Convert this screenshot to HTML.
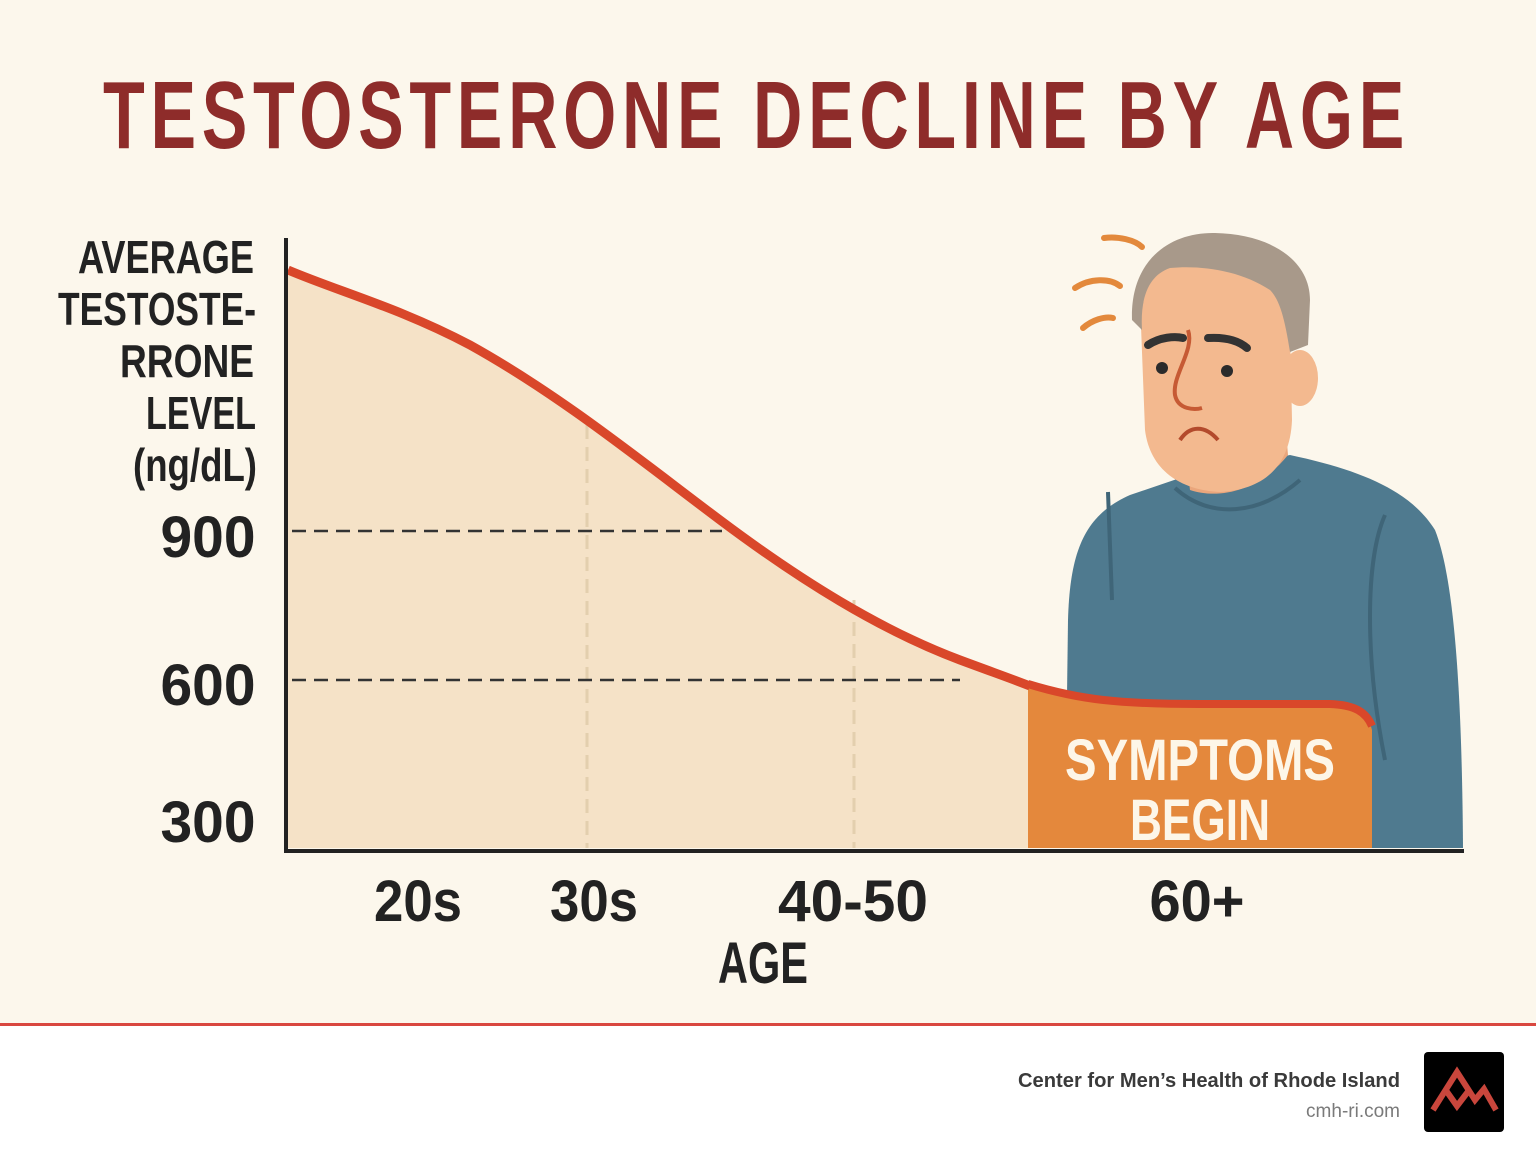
<!DOCTYPE html>
<html><head><meta charset="utf-8"><style>
html,body{margin:0;padding:0;}
body{width:1536px;height:1154px;overflow:hidden;background:#fff;}
svg{display:block;}
text{font-family:"Liberation Sans",sans-serif;font-weight:bold;}
</style></head><body>
<svg width="1536" height="1154" viewBox="0 0 1536 1154" xmlns="http://www.w3.org/2000/svg">
<rect x="0" y="0" width="1536" height="1024" fill="#fcf7ec"/>
<rect x="0" y="1023" width="1536" height="3" fill="#d9473f"/>
<rect x="0" y="1026" width="1536" height="128" fill="#ffffff"/>

<text x="103" y="148" font-size="96" letter-spacing="8" fill="#8e2c2a" textLength="1307" lengthAdjust="spacingAndGlyphs">TESTOSTERONE DECLINE BY AGE</text>

<!-- man body -->
<path d="M1065,848 L1068,620 C1070,550 1085,515 1130,495 L1180,478 L1290,455 C1360,470 1410,490 1435,530 C1455,580 1462,700 1463,848 Z" fill="#4f7a8f"/>
<path d="M1175,488 C1210,520 1260,515 1300,480" stroke="#3f6578" stroke-width="4" fill="none"/>
<path d="M1108,492 L1112,600" stroke="#3f6578" stroke-width="4" fill="none"/>
<path d="M1385,515 C1365,560 1365,660 1385,760" stroke="#3f6578" stroke-width="4" fill="none"/>
<!-- neck -->
<path d="M1185,450 L1190,490 C1220,500 1260,490 1288,455 L1285,420 Z" fill="#eaa67c"/>
<!-- head -->
<path d="M1140,300 C1140,270 1170,255 1215,258 C1265,262 1290,290 1290,330 L1292,420 C1290,470 1260,490 1220,492 C1180,490 1150,470 1145,430 Z" fill="#f3b98f"/>
<ellipse cx="1300" cy="378" rx="18" ry="28" fill="#f3b98f"/>
<path d="M1132,320 C1130,260 1170,232 1215,233 C1270,234 1310,260 1310,300 L1308,345 L1290,352 C1285,320 1280,300 1270,290 C1240,270 1200,265 1170,268 C1150,275 1140,295 1142,330 Z" fill="#a8998a"/>
<path d="M1148,345 C1160,337 1175,336 1183,338" stroke="#333" stroke-width="8" stroke-linecap="round" fill="none"/>
<path d="M1208,338 C1225,337 1238,340 1247,348" stroke="#333" stroke-width="8" stroke-linecap="round" fill="none"/>
<circle cx="1162" cy="368" r="6" fill="#2b2b2b"/>
<circle cx="1227" cy="371" r="6" fill="#2b2b2b"/>
<path d="M1188,330 C1195,350 1172,375 1175,395 C1178,410 1195,410 1202,408" stroke="#c65a34" stroke-width="4" fill="none"/>
<path d="M1180,440 C1190,425 1205,425 1218,440" stroke="#b34a2c" stroke-width="4" fill="none"/>
<!-- motion lines -->
<path d="M1104,238 C1118,236 1135,240 1142,247" stroke="#e3893c" stroke-width="6" stroke-linecap="round" fill="none"/>
<path d="M1075,288 C1090,278 1110,278 1120,286" stroke="#e3893c" stroke-width="6" stroke-linecap="round" fill="none"/>
<path d="M1083,328 C1092,320 1105,316 1113,318" stroke="#e3893c" stroke-width="6" stroke-linecap="round" fill="none"/>

<!-- chart fill -->
<path d="M288,270 C340,292 400,308 470,345 C560,395 640,460 720,520 C800,580 880,630 960,660 C995,673 1015,680 1030,685 L1030,848 L288,848 Z" fill="#f5e2c7"/>
<path d="M1028,684 C1080,700 1120,704 1200,704 L1330,704 C1355,705 1368,712 1372,730 L1372,848 L1028,848 Z" fill="#e4883c"/>
<path d="M1028,684 C1080,700 1120,704 1200,704 L1330,704 C1355,705 1366,712 1372,726" stroke="#d9472a" stroke-width="8" fill="none"/>

<line x1="587" y1="425" x2="587" y2="848" stroke="#e3cfae" stroke-width="3" stroke-dasharray="14,8"/>
<line x1="854" y1="600" x2="854" y2="848" stroke="#e3cfae" stroke-width="3" stroke-dasharray="14,8"/>
<line x1="292" y1="531" x2="722" y2="531" stroke="#333" stroke-width="2.5" stroke-dasharray="14,8"/>
<line x1="292" y1="680" x2="960" y2="680" stroke="#333" stroke-width="2.5" stroke-dasharray="14,8"/>

<path d="M288,270 C340,292 400,308 470,345 C560,395 640,460 720,520 C800,580 880,630 960,660 C995,673 1015,680 1030,686" stroke="#d9472a" stroke-width="9" fill="none"/>

<line x1="286" y1="238" x2="286" y2="852" stroke="#222" stroke-width="4"/>
<line x1="284" y1="851" x2="1464" y2="851" stroke="#222" stroke-width="4"/>

<g fill="#222" font-size="46" text-anchor="end">
<text x="254" y="273" textLength="176" lengthAdjust="spacingAndGlyphs">AVERAGE</text>
<text x="256" y="325" textLength="198" lengthAdjust="spacingAndGlyphs">TESTOSTE-</text>
<text x="254" y="377" textLength="134" lengthAdjust="spacingAndGlyphs">RRONE</text>
<text x="256" y="429" textLength="110" lengthAdjust="spacingAndGlyphs">LEVEL</text>
<text x="257" y="481" textLength="124" lengthAdjust="spacingAndGlyphs">(ng/dL)</text>
</g>
<g fill="#222" font-size="58" text-anchor="middle">
<text x="208" y="557" textLength="95" lengthAdjust="spacingAndGlyphs">900</text>
<text x="208" y="705" textLength="95" lengthAdjust="spacingAndGlyphs">600</text>
<text x="208" y="842" textLength="95" lengthAdjust="spacingAndGlyphs">300</text>
<text x="418" y="921" textLength="88" lengthAdjust="spacingAndGlyphs">20s</text>
<text x="594" y="921" textLength="88" lengthAdjust="spacingAndGlyphs">30s</text>
<text x="853" y="921" textLength="150" lengthAdjust="spacingAndGlyphs">40-50</text>
<text x="1197" y="921" textLength="95" lengthAdjust="spacingAndGlyphs">60+</text>
<text x="763" y="983" textLength="90" lengthAdjust="spacingAndGlyphs">AGE</text>
</g>
<g fill="#fdf6e8" font-size="58" text-anchor="middle">
<text x="1200" y="780" textLength="270" lengthAdjust="spacingAndGlyphs">SYMPTOMS</text>
<text x="1200" y="840" textLength="140" lengthAdjust="spacingAndGlyphs">BEGIN</text>
</g>

<text x="1400" y="1087" font-size="20" fill="#3a3a3a" text-anchor="end" textLength="382" lengthAdjust="spacingAndGlyphs">Center for Men’s Health of Rhode Island</text>
<text x="1400" y="1117" font-size="19" fill="#7a7a7a" text-anchor="end" style="font-weight:normal">cmh-ri.com</text>
<rect x="1424" y="1052" width="80" height="80" rx="4" fill="#000"/>
<path d="M1433,1110 L1457,1072 L1475,1100 L1484,1089 L1496,1110" stroke="#c9463c" stroke-width="6" fill="none"/>
<path d="M1445,1089 L1457,1106 L1470,1089" stroke="#c9463c" stroke-width="6" fill="none"/>
</svg>
</body></html>
